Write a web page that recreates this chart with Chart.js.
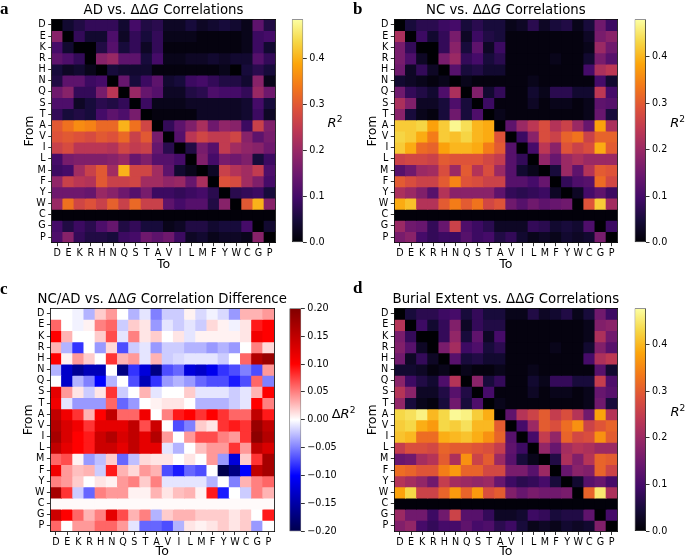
<!DOCTYPE html>
<html><head><meta charset="utf-8">
<script src="https://cdn.jsdelivr.net/npm/chart.js@4.4.0/dist/chart.umd.min.js"></script>
<style>
html,body{margin:0;padding:0;background:#fff;}
#fig{position:relative;width:685px;height:557px;overflow:hidden;background:#fff;font-family:'DejaVu Sans',sans-serif;}
canvas{position:absolute;}
.t{position:absolute;white-space:nowrap;color:#000;}
.title{font-size:13.3px;line-height:16px;transform:translateX(-50%);}
.lab{font-size:13px;line-height:16px;}
.lab sup{font-size:70%;line-height:0;vertical-align:0.55em;}
.letter{font-family:'Liberation Serif',serif;font-weight:bold;font-size:17px;line-height:17px;}
</style></head><body><div id="fig"></div>
<script>
const fromLabels = ['D','E','K','R','H','N','Q','S','T','A','V','I','L','M','F','Y','W','C','G','P'];
const toLabels   = ['D','E','K','R','H','N','Q','S','T','A','V','I','L','M','F','Y','W','C','G','P'];

// a: AD vs ddG R^2 (rows = From, cols = To)
const adR2 = [
 [0,.04,.06,.08,.08,.08,.04,.10,.06,.07,.03,.03,.05,.03,.04,.05,.04,.02,.13,.06],
 [.18,0,.08,.04,.04,.11,.03,.08,.05,.08,.02,.02,.02,.01,.01,.01,.01,.02,.09,.10],
 [.10,.04,0,0,.06,.12,.05,.08,.03,.08,.01,.01,.01,.01,.01,.01,.01,.02,.09,.04],
 [.13,.11,.08,0,.18,.20,.13,.13,.05,.10,.02,.02,.03,.03,.04,.03,.04,.04,.12,.08],
 [.05,.03,.04,.02,0,.05,.04,.04,.04,.01,.01,.01,.01,.01,.01,.02,0,.05,.07,.05],
 [.06,.13,.13,.09,.10,0,.14,.05,.09,.13,.04,.05,.09,.10,.08,.06,.06,.04,.18,.02],
 [.15,.18,.08,.08,.16,.24,0,.20,.14,.12,.03,.03,.06,.07,.11,.10,.10,.08,.20,.15],
 [.11,.11,.03,.05,.07,.06,.08,0,.09,.02,.02,.02,.03,.03,.03,.03,.03,.04,.10,.05],
 [.08,.05,.06,.05,.10,.13,.11,.16,0,.01,.01,.01,.01,.03,.03,.03,.03,.04,.09,.03],
 [.30,.33,.36,.35,.32,.32,.40,.33,.27,0,.08,.13,.17,.22,.15,.19,.18,.09,.26,.17],
 [.29,.30,.29,.28,.30,.29,.32,.26,.30,.16,0,.12,.24,.27,.25,.25,.27,.18,.13,.16],
 [.26,.28,.24,.24,.24,.23,.27,.25,.26,.14,.07,0,.06,.16,.12,.25,.21,.19,.18,.15],
 [.10,.16,.17,.17,.17,.18,.20,.14,.17,.12,.12,.10,0,.17,.10,.16,.15,.17,.05,.09],
 [.09,.10,.21,.26,.30,.21,.40,.27,.27,.21,.13,.04,.02,0,.03,.26,.23,.21,.25,.11],
 [.19,.26,.24,.23,.30,.26,.26,.27,.21,.21,.19,.20,.14,.22,0,.29,.28,.21,.17,.10],
 [.15,.15,.15,.14,.20,.18,.15,.12,.16,.09,.09,.08,.09,.10,.07,0,.07,.08,.09,.05],
 [.20,.33,.27,.29,.26,.31,.26,.32,.26,.26,.13,.10,.12,.12,.06,.18,0,.30,.40,.18],
 [.005,.005,.005,.005,.005,.005,.005,.005,.005,.005,.005,.005,.005,.005,.005,.005,.005,.005,.005,.005],
 [.10,.06,.09,.07,.11,.14,.06,.08,.05,.05,.02,.03,.06,.06,.04,.05,.05,.10,0,.04],
 [.11,.18,.08,.06,.06,.05,.09,.10,.15,.13,.15,.09,.03,.04,.02,.03,.03,.02,.18,0]
];

// b: NC vs ddG R^2
const ncR2 = [
 [0,.05,.07,.07,.09,.10,.05,.07,.05,.05,.02,.03,.07,.03,.05,.06,.02,.05,.15,.09],
 [.22,0,.09,.04,.08,.16,.03,.09,.06,.05,.01,.01,.01,.01,.01,.01,.01,.03,.16,.18],
 [.16,.08,0,0,.08,.18,.05,.13,.03,.09,.01,.01,.01,.01,.01,.01,.01,.02,.20,.15],
 [.16,.11,.03,0,.16,.20,.08,.10,.05,.07,.01,.01,.01,.01,.02,.01,.01,.04,.16,.12],
 [.15,.03,.08,.03,0,.12,.05,.06,.04,.04,.01,.01,.01,.01,.01,.01,.01,.10,.22,.24],
 [.04,.03,.02,.01,.02,0,.02,.01,.01,.01,.01,.01,.02,.01,.01,.01,.01,.01,.10,.04],
 [.15,.08,.06,.04,.11,.22,0,.17,.04,.08,.01,.01,.04,.02,.07,.07,.04,.04,.24,.10],
 [.22,.17,.03,.03,.05,.11,.05,0,.09,.01,.01,.01,.03,.01,.02,.02,.01,.02,.13,.12],
 [.18,.05,.02,.01,.05,.15,.05,.11,0,.02,.01,.01,.01,.01,.01,.01,.01,.02,.14,.05],
 [.42,.42,.43,.38,.42,.47,.44,.40,.39,0,.13,.20,.24,.28,.23,.26,.20,.14,.38,.22],
 [.43,.42,.39,.34,.42,.41,.43,.40,.39,.29,0,.09,.18,.28,.26,.31,.33,.26,.31,.31],
 [.42,.39,.32,.31,.38,.40,.40,.39,.34,.30,.12,0,.10,.24,.18,.29,.26,.28,.39,.30],
 [.26,.27,.27,.26,.30,.29,.29,.29,.27,.25,.12,.08,0,.19,.14,.20,.22,.20,.20,.20],
 [.12,.15,.20,.21,.28,.20,.30,.23,.28,.20,.12,.04,.02,0,.05,.20,.13,.23,.30,.29],
 [.30,.28,.26,.26,.30,.35,.29,.28,.26,.26,.12,.12,.10,.14,0,.08,.11,.12,.32,.27],
 [.22,.20,.17,.12,.23,.18,.18,.18,.18,.13,.08,.07,.08,.09,.03,0,.03,.10,.13,.09],
 [.39,.41,.23,.23,.30,.34,.30,.33,.27,.29,.15,.12,.15,.13,.14,.15,0,.29,.42,.21],
 [.005,.005,.005,.005,.005,.005,.005,.005,.005,.005,.005,.005,.005,.005,.005,.005,.005,.005,.005,.005],
 [.20,.15,.14,.08,.14,.26,.11,.09,.07,.03,.03,.03,.08,.07,.04,.05,.04,.11,0,.09],
 [.16,.18,.10,.08,.09,.09,.12,.09,.10,.06,.08,.04,.02,.03,.02,.04,.03,.04,.16,0]
];

// c: NC/AD correlation difference (delta R^2)
const diffR2 = [
 [0,0,-.005,-.03,.02,.04,0,-.03,-.01,-.05,-.02,-.02,.005,-.015,-.005,-.015,-.04,.03,.03,.04],
 [.06,0,-.005,.005,.05,.06,-.02,.02,.01,-.04,-.01,-.02,-.01,-.02,.015,.005,-.005,.01,.09,.10],
 [.10,.03,0,0,.02,.07,-.01,.05,.01,.02,0,.01,-.01,.005,.005,.005,.005,.01,.11,.10],
 [.03,-.03,-.08,0,-.04,.015,-.07,-.02,-.01,-.04,-.02,-.02,-.03,-.03,-.04,-.03,-.04,0,.05,.015],
 [.10,.005,.04,.02,0,.08,.03,.04,-.01,.03,-.02,-.015,-.01,-.01,-.01,-.02,0,.06,.16,.18],
 [-.03,-.13,-.16,-.14,-.14,0,-.17,-.08,-.12,-.17,-.07,-.06,-.12,-.13,-.11,-.08,-.07,-.05,-.07,.04],
 [0,-.13,-.03,-.05,-.10,-.03,0,-.07,-.14,-.08,-.04,-.03,-.04,-.06,-.07,-.07,-.09,-.07,.06,-.05],
 [.12,.04,.01,-.02,.01,.08,-.02,0,.03,-.01,0,0,.02,-.01,-.01,-.01,-.02,-.01,.03,.10],
 [.11,-.01,-.04,-.04,-.04,.06,-.06,-.04,0,.005,.01,.01,0,-.03,-.03,-.03,-.02,-.01,.10,.05],
 [.15,.11,.08,.03,.10,.15,.06,.06,.11,0,.05,.09,.10,.08,.10,.08,.06,.06,.15,.09],
 [.16,.13,.11,.08,.12,.12,.12,.15,.07,.14,0,-.07,-.05,.02,.01,.08,.09,.08,.18,.15],
 [.17,.13,.10,.09,.14,.16,.13,.15,.12,.16,.04,0,.04,.07,.07,.05,.04,.08,.19,.16],
 [.15,.12,.10,.09,.14,.14,.12,.15,.12,.12,-.01,-.03,0,.025,.04,.04,.08,.04,.15,.13],
 [.06,.07,.005,-.04,-.025,.02,-.06,-.025,.015,.01,.01,0,.01,0,.04,-.04,-.12,.02,.08,.17],
 [.11,.04,.025,.03,-.02,.09,.03,.015,.04,.03,-.07,-.09,-.06,-.07,0,-.20,-.17,-.10,.15,.17],
 [.05,.04,.02,0,.01,.005,.04,.05,.02,.05,-.01,-.01,-.01,-.01,-.03,0,-.05,.03,.05,.06],
 [.17,.08,-.02,-.06,.05,.04,.04,.005,.005,.03,.01,.025,.03,.005,.09,-.09,0,-.02,.05,.03],
 [.002,.002,.002,.002,.002,.002,.002,.002,.002,.002,.002,.002,.002,.002,.002,.002,.002,.002,.002,.002],
 [.14,.10,.06,.03,.05,.12,.07,.03,.05,-.03,.02,.03,.03,.02,.02,.02,.01,.02,0,.09],
 [.06,0,.04,.04,.06,.06,.04,-.01,-.06,-.06,-.07,-.03,.01,.005,.01,.02,.01,.02,-.04,0]
];

// d: Burial extent vs ddG R^2
const burialR2 = [
 [0,.05,.07,.07,.09,.10,.05,.08,.05,.05,.02,.02,.06,.03,.04,.06,.02,.05,.15,.09],
 [.23,0,.09,.04,.08,.17,.03,.08,.06,.06,.01,.01,.01,.01,.01,.01,.01,.02,.17,.18],
 [.16,.08,0,0,.08,.19,.05,.13,.03,.10,.01,.01,.01,.01,.01,.01,.01,.02,.22,.15],
 [.17,.12,.03,0,.16,.21,.09,.11,.05,.07,.01,.01,.01,.01,.02,.01,.01,.04,.17,.12],
 [.15,.03,.08,.03,0,.12,.05,.06,.04,.04,.01,.01,.01,.01,.01,.01,.01,.10,.22,.24],
 [.04,.04,.03,.01,.02,0,.02,.01,.01,.02,.01,.01,.02,.01,.01,.01,.01,.01,.12,.04],
 [.18,.09,.06,.04,.11,.23,0,.18,.05,.08,.01,.01,.04,.02,.08,.08,.05,.05,.25,.11],
 [.23,.18,.03,.03,.06,.12,.06,0,.10,.01,.01,.01,.03,.01,.02,.02,.01,.02,.14,.12],
 [.19,.05,.02,.01,.05,.15,.05,.11,0,.02,.01,.01,.01,.01,.01,.01,.01,.02,.15,.05],
 [.43,.44,.46,.40,.43,.47,.46,.42,.39,0,.13,.23,.26,.30,.25,.28,.23,.15,.38,.23],
 [.42,.43,.39,.37,.43,.42,.44,.40,.40,.30,0,.10,.20,.30,.28,.32,.36,.26,.29,.31],
 [.41,.40,.32,.32,.39,.40,.41,.39,.36,.31,.12,0,.10,.25,.19,.31,.27,.28,.36,.30],
 [.25,.28,.28,.27,.31,.30,.30,.29,.28,.25,.13,.09,0,.19,.14,.21,.23,.22,.20,.20],
 [.14,.15,.21,.23,.30,.22,.36,.26,.30,.20,.12,.05,.02,0,.06,.22,.17,.23,.31,.30],
 [.32,.31,.29,.29,.34,.37,.31,.31,.27,.27,.16,.16,.12,.20,0,.14,.18,.17,.31,.26],
 [.23,.21,.19,.15,.25,.21,.20,.19,.20,.14,.09,.07,.08,.10,.05,0,.04,.12,.14,.10],
 [.38,.43,.26,.26,.31,.37,.31,.37,.28,.30,.17,.14,.16,.15,.15,.16,0,.31,.45,.22],
 [.005,.005,.005,.005,.005,.005,.005,.005,.005,.005,.005,.005,.005,.005,.005,.005,.005,.005,.005,.005],
 [.20,.15,.15,.09,.15,.26,.12,.12,.08,.03,.03,.04,.09,.08,.05,.06,.06,.13,0,.10],
 [.17,.19,.10,.08,.10,.10,.13,.10,.11,.07,.09,.05,.02,.03,.02,.04,.03,.04,.17,0]
];

const r2Ticks = [0, 0.1, 0.2, 0.3, 0.4];
const diffTicks = [-0.2, -0.15, -0.1, -0.05, 0, 0.05, 0.1, 0.15, 0.2];
const adMax = 0.484, ncMax = 0.48, burialMax = 0.477, diffLim = 0.2;

const INFERNO = [[0,'#000004'],[0.1,'#160b39'],[0.2,'#420a68'],[0.3,'#6a176e'],[0.4,'#932667'],
  [0.5,'#bc3754'],[0.6,'#dd513a'],[0.7,'#f37819'],[0.8,'#fca50a'],[0.9,'#f6d746'],[1,'#fcffa4']];
const SEISMIC = [[0,'#00004c'],[0.25,'#0000ff'],[0.5,'#ffffff'],[0.75,'#ff0000'],[1,'#800000']];

function hexRgb(h){return [parseInt(h.slice(1,3),16),parseInt(h.slice(3,5),16),parseInt(h.slice(5,7),16)];}
function cmapColor(stops, t){
  t = Math.max(0, Math.min(1, t));
  for (let k = 1; k < stops.length; k++) {
    if (t <= stops[k][0]) {
      const [t0,c0] = stops[k-1], [t1,c1] = stops[k];
      const f = (t - t0) / (t1 - t0), a = hexRgb(c0), b = hexRgb(c1);
      return 'rgb(' + a.map((v,i) => Math.round(v + (b[i]-v)*f)).join(',') + ')';
    }
  }
  return stops[stops.length-1][1];
}

Chart.defaults.font.family = "'DejaVu Sans', sans-serif";
Chart.defaults.color = '#000';
const fig = document.getElementById('fig');

function addCanvas(left, top, w, h){
  const c = document.createElement('canvas');
  c.width = w; c.height = h;
  c.style.left = left + 'px'; c.style.top = top + 'px';
  c.style.width = w + 'px'; c.style.height = h + 'px';
  fig.appendChild(c);
  return c;
}
const TICKFONT = {size: 9.6};
const LABSIZE = 12.5;
const LABFONT = {size: LABSIZE, lineHeight: 1.2};
const LABHALF = LABSIZE * 1.2 / 2;

function heatmap(box, values, stops, vmin, vmax, toOffset){
  const cl = Math.floor(box.L - 52), ct = Math.floor(box.T - 20);
  const cr = Math.ceil(box.R + 5), cb = Math.ceil(box.B + 36);
  const canvas = addCanvas(cl, ct, cr - cl, cb - ct);
  const yW = box.L - cl, xH = cb - box.B;
  const datasets = fromLabels.map((row, i) => ({
    label: row,
    data: toLabels.map(() => 1),
    backgroundColor: values[i].map(v => cmapColor(stops, (v - vmin) / (vmax - vmin))),
    borderWidth: 0, inflateAmount: 0.45,
    barPercentage: 1, categoryPercentage: 1
  }));
  const frame = {display: true, color: '#000', width: 0.8, z: 1};
  new Chart(canvas, {
    type: 'bar',
    data: {labels: toLabels, datasets},
    options: {
      responsive: false, animation: false, events: [],
      layout: {padding: {left: 0, top: box.T - ct, right: cr - box.R, bottom: 0}},
      plugins: {legend: {display: false}, tooltip: {enabled: false}, title: {display: false}},
      scales: {
        x: {stacked: true, offset: true,
          grid: {offset: false, drawOnChartArea: false, drawTicks: true, tickLength: 3.5, color: '#000', lineWidth: 0.8},
          border: frame,
          ticks: {color: '#000', font: TICKFONT, padding: 2, maxRotation: 0, minRotation: 0, autoSkip: false},
          title: {display: true, text: 'To', color: '#000', font: LABFONT, padding: {top: 0, bottom: xH - toOffset - LABHALF}},
          afterFit: s => { s.height = xH; s.paddingLeft = 0; s.paddingRight = 0; }},
        y: {stacked: true, min: 0, max: 20, reverse: true,
          afterBuildTicks: s => { s.ticks = fromLabels.map((_, i) => ({value: i + 0.5})); },
          grid: {drawOnChartArea: false, drawTicks: true, tickLength: 3.5, color: '#000', lineWidth: 0.8},
          border: frame,
          ticks: {color: '#000', font: TICKFONT, padding: 2.5, autoSkip: false, callback: (v, i) => fromLabels[i]},
          title: {display: true, text: 'From', color: '#000', font: LABFONT, padding: {top: yW - 21.7 - LABHALF, bottom: 0}},
          afterFit: s => { s.width = yW; s.paddingTop = 0; s.paddingBottom = 0; }},
        x2: {type: 'category', labels: toLabels, position: 'top', offset: true,
          grid: {display: false, drawTicks: false}, ticks: {display: false}, border: frame,
          afterFit: s => { s.height = 0; s.paddingLeft = 0; s.paddingRight = 0; }},
        y2: {type: 'linear', position: 'right', min: 0, max: 20,
          grid: {display: false, drawTicks: false}, ticks: {display: false}, border: frame,
          afterFit: s => { s.width = 0; s.paddingTop = 0; s.paddingBottom = 0; }}
      }
    }
  });
}

function colorbar(box, vmin, vmax, ticks, fmt, stops){
  const cl = Math.floor(box.L - 2), ct = Math.floor(box.T - 6);
  const cr = Math.ceil(box.R + 34), cb = Math.ceil(box.B + 6);
  const canvas = addCanvas(cl, ct, cr - cl, cb - ct);
  const yW = cr - box.R;
  new Chart(canvas, {
    type: 'bar',
    data: {labels: [''], datasets: [{
      data: [[vmin, vmax]],
      backgroundColor: (c) => {
        const ch = c.chart, ys = ch.scales.y;
        if (!ch.chartArea || !ys) return '#000';
        const g = ch.ctx.createLinearGradient(0, ys.getPixelForValue(vmin), 0, ys.getPixelForValue(vmax));
        stops.forEach(([t, col]) => g.addColorStop(t, col));
        return g;
      },
      borderColor: '#000', borderWidth: 0.8, borderSkipped: false, inflateAmount: 0,
      barPercentage: 1, categoryPercentage: 1
    }]},
    options: {
      responsive: false, animation: false, events: [],
      layout: {padding: {left: box.L - cl, top: box.T - ct, right: 0, bottom: cb - box.B}},
      plugins: {legend: {display: false}, tooltip: {enabled: false}},
      scales: {
        x: {display: false, offset: true},
        y: {position: 'right', min: vmin, max: vmax,
          afterBuildTicks: s => { s.ticks = ticks.map(v => ({value: v})); },
          grid: {drawOnChartArea: false, drawTicks: true, tickLength: 3.5, color: '#000', lineWidth: 0.8},
          border: {display: false},
          ticks: {color: '#000', font: TICKFONT, padding: 2.5, autoSkip: false, callback: v => fmt(v)},
          afterFit: s => { s.width = yW; s.paddingTop = 0; s.paddingBottom = 0; }}
      }
    }
  });
}

const fmtR2 = v => v.toFixed(1);
const fmtDiff = v => (v < -1e-9 ? '\u2212' : '') + Math.abs(v).toFixed(2);

const boxA = {L: 51.7, R: 275.3, T: 19.3, B: 242.7};
const boxB = {L: 394.3, R: 617.3, T: 19.3, B: 242.7};
const boxC = {L: 50.4, R: 274, T: 308.2, B: 531.5};
const boxD = {L: 394.3, R: 617.3, T: 308.2, B: 531.5};

heatmap(boxA, adR2, INFERNO, 0, adMax, 22.3);
heatmap(boxB, ncR2, INFERNO, 0, ncMax, 22.3);
heatmap(boxC, diffR2, SEISMIC, -diffLim, diffLim, 20);
heatmap(boxD, burialR2, INFERNO, 0, burialMax, 20);

colorbar({L: 291.7, R: 303.3, T: 19.3, B: 242.7}, 0, adMax, r2Ticks, fmtR2, INFERNO);
colorbar({L: 634.5, R: 646, T: 19.3, B: 242.7}, 0, ncMax, r2Ticks, fmtR2, INFERNO);
colorbar({L: 289.3, R: 301.3, T: 308.2, B: 531.5}, -diffLim, diffLim, diffTicks, fmtDiff, SEISMIC);
colorbar({L: 634.5, R: 646, T: 308.2, B: 531.5}, 0, burialMax, r2Ticks, fmtR2, INFERNO);

function addText(cls, html, left, top){
  const d = document.createElement('div');
  d.className = 't ' + cls;
  d.innerHTML = html;
  d.style.left = left + 'px'; d.style.top = top + 'px';
  fig.appendChild(d);
}
addText('title', 'AD vs. \u0394\u0394<i>G</i> Correlations', 163.5, 2.25);
addText('title', 'NC vs. \u0394\u0394<i>G</i> Correlations', 505.8, 2.25);
addText('title', 'NC/AD vs. \u0394\u0394<i>G</i> Correlation Difference', 162.2, 290.75);
addText('title', 'Burial Extent vs. \u0394\u0394<i>G</i> Correlations', 505.8, 290.75);
addText('lab', '<i>R</i><sup>2</sup>', 327.6, 115.2);
addText('lab', '<i>R</i><sup>2</sup>', 670.2, 115.2);
addText('lab', '\u0394<i>R</i><sup>2</sup>', 331.7, 406.2);
addText('lab', '<i>R</i><sup>2</sup>', 670.5, 404.2);
addText('letter', 'a', 0, 0.3);
addText('letter', 'b', 353, 0.3);
addText('letter', 'c', 0, 279.8);
addText('letter', 'd', 353, 279.3);
</script></body></html>
